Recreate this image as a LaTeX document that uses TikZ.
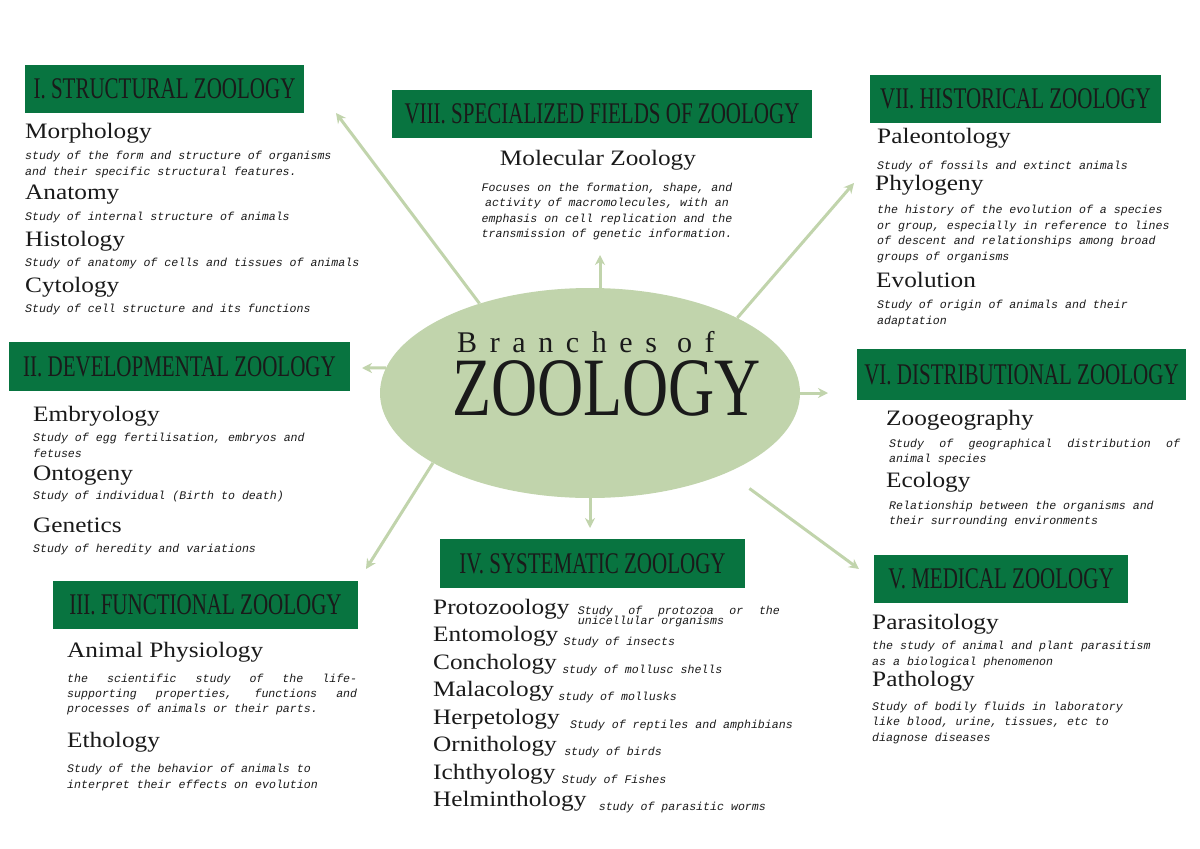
\documentclass[tikz,border=0pt]{standalone}
\usepackage{fontspec}
\setmainfont{Liberation Serif}
\newfontfamily\headfam[FakeStretch=0.70]{Liberation Serif}
\newfontfamily\termfam[FakeStretch=1.15]{Liberation Serif}
\newfontfamily\descfam{Liberation Mono}
\newfontfamily\spacedfam[LetterSpace=42]{Liberation Serif}
\newfontfamily\titlefam[FakeStretch=0.77]{Liberation Serif}
\usetikzlibrary{positioning, shapes.geometric, arrows.meta}

\definecolor{zgreen}{RGB}{8,116,64}
\definecolor{sage}{RGB}{193,212,172}
\definecolor{ink}{RGB}{26,26,26}

\newcommand{\descfont}{\descfam\itshape\fontsize{11.6}{15.4}\selectfont}
\newcommand{\justfont}{\descfont\spaceskip=.6em plus 2em\relax}

\tikzset{
  head/.style={fill=zgreen, text=ink, minimum height=48pt, inner sep=0pt, font=\headfam\fontsize{30}{30}\selectfont},
  term/.style={text=ink, inner sep=0pt, anchor=base west, font=\termfam\fontsize{22}{24}\selectfont},
  desc/.style={text=ink, inner sep=0pt, anchor=base west, align=left, font=\descfont},
  just/.style={desc, align=justify, font=\justfont},
  branch/.style={draw=sage, line width=3pt, -{Stealth[length=10pt,width=10pt]}}
}

\begin{document}
\begin{tikzpicture}[x=1pt,y=-1pt]
\fill[white] (0,0) rectangle (1200,849);

% centre
\node[ellipse, fill=sage, minimum width=420pt, minimum height=210pt, inner sep=0pt] (zoo) at (590,393) {};
\node[inner sep=0pt, anchor=base west, text=ink, text depth=0pt, font=\spacedfam\fontsize{30}{30}\selectfont] (branches) at (457,352) {Branches of};
\node[inner sep=0pt, anchor=base west, text=ink, text height=55pt, font=\titlefam\fontsize{83}{83}\selectfont] (zoology) at (452,415) {ZOOLOGY};

% arrows
\coordinate (tipI) at (336,113);
\coordinate (tipII) at (362,368);
\coordinate (tipIII) at (366,569);
\coordinate (tipIV) at (590,528);
\coordinate (tipV) at (859,569);
\coordinate (tipVI) at (828,393);
\coordinate (tipVII) at (854,183);
\coordinate (tipVIII) at (600,255);
\draw[branch] (zoo.141) -- (tipI);
\draw[branch] (zoo.173) -- (tipII);
\draw[branch] (zoo.204) -- (tipIII);
\draw[branch] (zoo.south) -- (tipIV);
\draw[branch, shorten <=27pt] (zoo.330) -- (tipV);
\draw[branch] (zoo.east) -- (tipVI);
\draw[branch] (zoo.27) -- (tipVII);
\draw[branch] (zoo.north -| tipVIII) -- (tipVIII);

% I
\node[head, minimum width=279pt] (structural) at (164.5,89) {I. STRUCTURAL ZOOLOGY};
\node[term] (morph) at (25,138) {Morphology};
\node[desc] (morphd) at (25,175) {study of the form and structure of organisms\\and their specific structural features.};
\node[term] (anat) at (25,199) {Anatomy};
\node[desc] (anatd) at (25,220) {Study of internal structure of animals};
\node[term] (histo) at (25,246) {Histology};
\node[desc] (histod) at (25,266) {Study of anatomy of cells and tissues of animals};
\node[term] (cyto) at (25,292) {Cytology};
\node[desc] (cytod) at (25,312.5) {Study of cell structure and its functions};

% II
\node[head, minimum width=341pt, minimum height=49pt] (developmental) at (179.5,366.5) {II. DEVELOPMENTAL ZOOLOGY};
\node[term] (embryo) at (33,421) {Embryology};
\node[desc] (embryod) at (33,457) {Study of egg fertilisation, embryos and\\fetuses};
\node[term] (onto) at (33,480) {Ontogeny};
\node[desc] (ontod) at (33,499.5) {Study of individual (Birth to death)};
\node[term] (genet) at (33,532) {Genetics};
\node[desc] (genetd) at (33,552.5) {Study of heredity and variations};

% III
\node[head, minimum width=305pt] (functional) at (205.5,605) {III. FUNCTIONAL ZOOLOGY};
\node[term] (physio) at (67,657) {Animal Physiology};
\node[just, text width=290pt] (physiod) at (67,682) {the scientific study of the life-\linebreak supporting properties, functions and\linebreak processes of animals or their parts.};
\node[term] (etho) at (67,747) {Ethology};
\node[desc] (ethod) at (67,788) {Study of the behavior of animals to\\interpret their effects on evolution};

% IV
\node[head, minimum width=305pt, minimum height=49pt] (systematic) at (592.5,563.5) {IV. SYSTEMATIC ZOOLOGY};
\node[term] (sys1) at (433,614) {Protozoology};
\node[just, text width=202pt, right=8pt of sys1.base east, anchor=base west] (sysd1) {\baselineskip=10.5pt\lineskiplimit=-20pt Study of protozoa or the\linebreak unicellular organisms\par};
\foreach \t/\d/\s [count=\i from 2] in {Entomology/Study of insects/5pt, Conchology/study of mollusc shells/5pt, Malacology/study of mollusks/4pt, Herpetology/Study of reptiles and amphibians/10pt, Ornithology/study of birds/7pt, Ichthyology/Study of Fishes/6pt, Helminthology/study of parasitic worms/12pt}{
  \node[term] (sys\i) at (433,586.5+27.5*\i) {\t};
  \node[desc, right=\s of sys\i.base east, anchor=base west, yshift=-4pt] (sysd\i) {\d};
}

% V
\node[head, minimum width=254pt] (medical) at (1001,579) {V. MEDICAL ZOOLOGY};
\node[term] (parasit) at (872,629) {Parasitology};
\node[desc] (parasitd) at (872,665) {the study of animal and plant parasitism\\as a biological phenomenon};
\node[term] (patho) at (872,686) {Pathology};
\node[desc] (pathod) at (872,741) {Study of bodily fluids in laboratory\\like blood, urine, tissues, etc to\\diagnose diseases};

% VI
\node[head, minimum width=329pt, minimum height=51pt] (distributional) at (1021.5,374.5) {VI. DISTRIBUTIONAL ZOOLOGY};
\node[term] (zoogeo) at (886,425) {Zoogeography};
\node[just, text width=291pt] (zoogeod) at (889,447) {Study of geographical distribution of\linebreak animal species};
\node[term] (eco) at (886,487) {Ecology};
\node[desc] (ecod) at (889,524.5) {Relationship between the organisms and\\their surrounding environments};

% VII
\node[head, minimum width=291pt] (historical) at (1015.5,99) {VII. HISTORICAL ZOOLOGY};
\node[term] (paleo) at (877,143) {Paleontology};
\node[desc] (paleod) at (877,169.5) {Study of fossils and extinct animals};
\node[term] (phylo) at (875,190) {Phylogeny};
\node[desc] (phylod) at (877,260) {the history of the evolution of a species\\or group, especially in reference to lines\\of descent and relationships among broad\\groups of organisms};
\node[term] (evol) at (876,287) {Evolution};
\node[desc] (evold) at (877,324) {Study of origin of animals and their\\adaptation};

% VIII
\node[head, minimum width=420pt] (specialized) at (602,114) {VIII. SPECIALIZED FIELDS OF ZOOLOGY};
\node[term, anchor=base] (molec) at (598,165) {Molecular Zoology};
\node[desc, align=center, anchor=base] (molecd) at (607,237.5) {Focuses on the formation, shape, and\\activity of macromolecules, with an\\emphasis on cell replication and the\\transmission of genetic information.};
\end{tikzpicture}
\end{document}
